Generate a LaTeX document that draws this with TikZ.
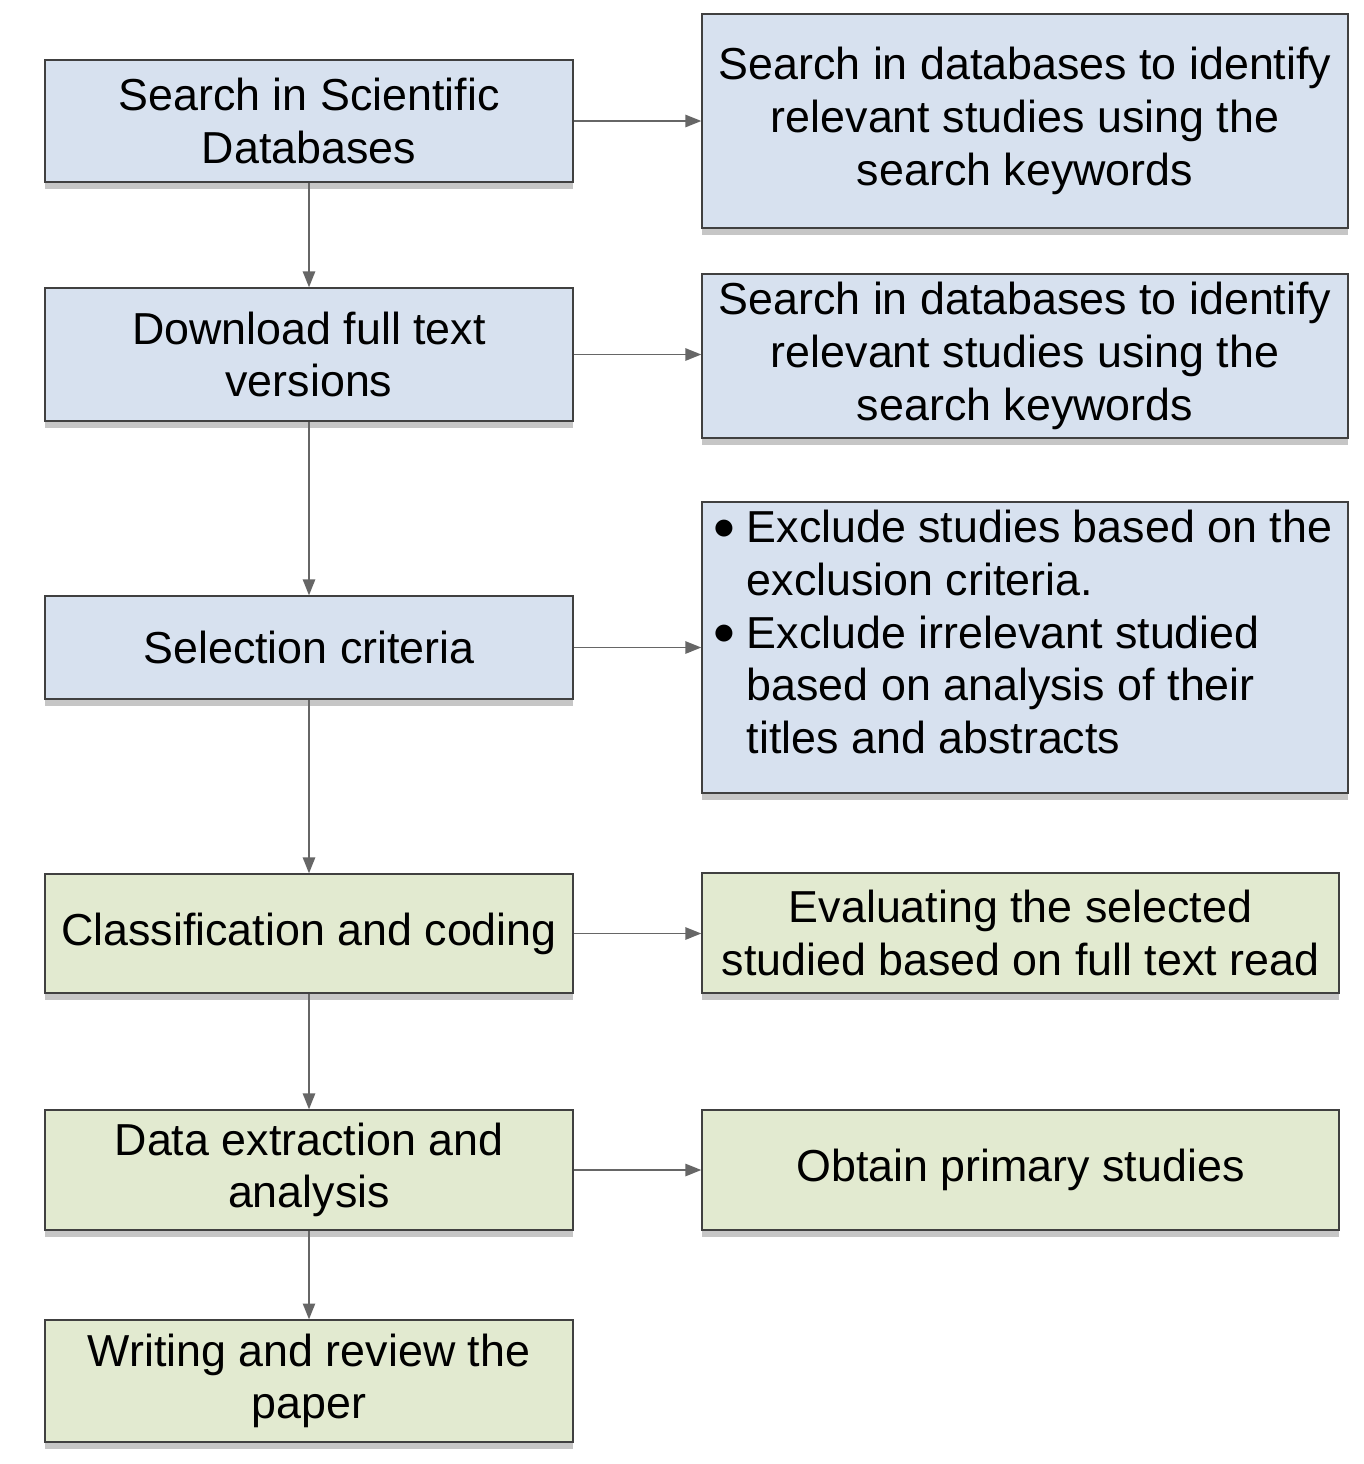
\documentclass[tikz,border=0pt]{standalone}
\usepackage{fontspec}
\setmainfont{Liberation Sans}
\usetikzlibrary{shadows,arrows.meta}
\definecolor{bfill}{HTML}{D7E1EF}
\definecolor{gfill}{HTML}{E2EAD0}
\definecolor{edge}{HTML}{404040}
\begin{document}
\begin{tikzpicture}[x=0.02cm,y=-0.02cm,
  box/.style={draw=edge,line width=0.8pt,drop shadow={shadow xshift=0pt,shadow yshift=-4pt,opacity=0.45},
    font=\fontsize{25.5}{30}\selectfont,align=center,inner sep=0pt},
  blue/.style={fill=bfill},green/.style={fill=gfill},
  arr/.style={draw=edge!80,line width=0.9pt,-{Triangle[length=9pt,width=7pt]}}]
\useasboundingbox (0,0) rectangle (1363,1464);
\newcommand{\bx}[7]{\node[box,#7,minimum width={(#3-#2)*0.02cm},minimum height={(#5-#4)*0.02cm}] (#1) at ({(#2+#3)/2},{(#4+#5)/2}) {#6};}
\newcommand{\bul}{\makebox[19pt][l]{\raisebox{2pt}{\fontsize{30}{30}\selectfont$\bullet$}}}
\bx{l1}{45}{573}{60}{182}{Search in Scientific\\Databases}{blue}
\bx{l2}{45}{573}{288}{421}{Download full text\\versions}{blue}
\bx{l3}{45}{573}{596}{699}{Selection criteria}{blue}
\bx{l4}{45}{573}{874}{993}{Classification and coding}{green}
\bx{l5}{45}{573}{1110}{1230}{Data extraction and\\analysis}{green}
\bx{l6}{45}{573}{1320}{1442}{Writing and review the\\paper}{green}
\bx{r1}{702}{1348}{14}{228}{Search in databases to identify\\relevant studies using the\\search keywords}{blue}
\bx{r2}{702}{1348}{274}{438}{Search in databases to identify\\relevant studies using the\\search keywords}{blue}
\bx{r3}{702}{1348}{502}{793}{}{blue}
\node[font=\fontsize{25.5}{30}\selectfont,align=left,anchor=north west,inner sep=0pt] (r3t) at (713,510) {%
\bul Exclude studies based on the\\
\hspace*{19pt}exclusion criteria.\\
\bul Exclude irrelevant studied\\
\hspace*{19pt}based on analysis of their\\
\hspace*{19pt}titles and abstracts};
\bx{r4}{702}{1339}{873}{993}{Evaluating the selected\\studied based on full text read}{green}
\bx{r5}{702}{1339}{1110}{1230}{Obtain primary studies}{green}
\foreach \a/\b in {l1/l2,l2/l3,l3/l4,l4/l5,l5/l6} \draw[arr] (\a) -- (\b);
\foreach \a/\b in {l1/r1,l2/r2,l3/r3,l4/r4,l5/r5} \draw[arr] (\a.east) -- (\b.west|-\a.east);
\end{tikzpicture}
\end{document}
